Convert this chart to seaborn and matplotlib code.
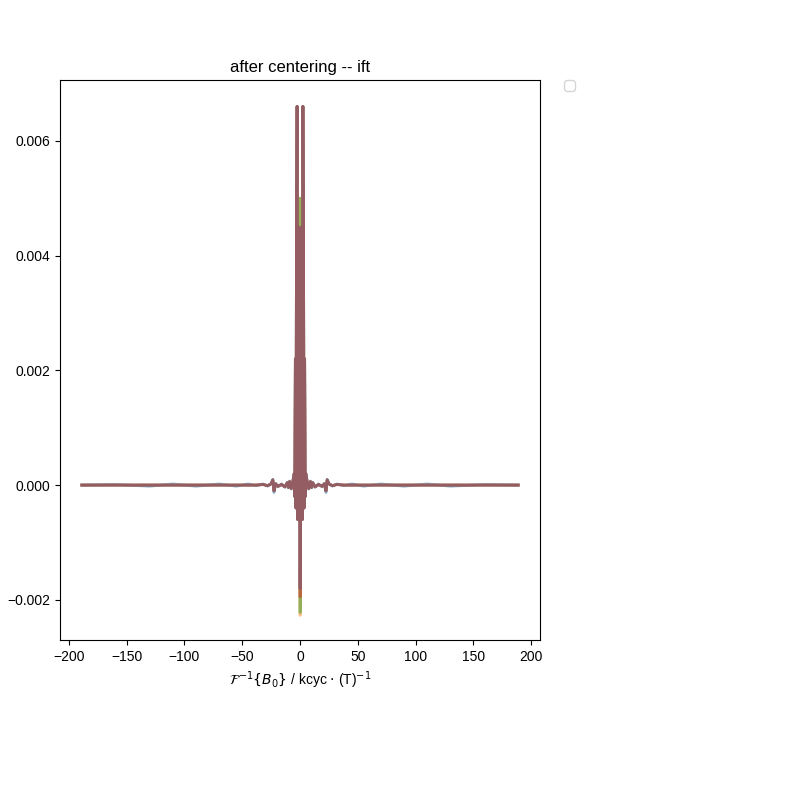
import pandas as pd
import numpy as np
import matplotlib
matplotlib.use("Agg")
import matplotlib.pyplot as plt
import seaborn as sns

plt.rcParams['font.family'] = ['Liberation Sans', 'DejaVu Sans']

# series drawn one over the other (tab10 order)
series = ["s0", "s1", "s2", "s3", "s4", "s5"]
colors = ["#1f77b4", "#ff7f0e", "#2ca02c", "#d62728", "#9467bd", "#8c564b"]

# far field, left side (right side mirrors these positions)
tail_x = [-188.7, -160, -130, -110, -90, -70, -55, -45, -38, -32, -28, -25,
          -23.5, -22.5, -21, -19, -16, -13, -11, -10, -9, -7.5, -6]
tail_y_left = [0, 0, 0, 0, 0, 0, 0, 0, 0, 0.00001, -0.00001, 0.00002,
               0.00009, -0.00010, 0.00002, -0.00002, 0.00001, -0.00003,
               0.00004, -0.00004, 0.00006, -0.00006, 0.00008]
tail_y_right = [0.00008, -0.00006, 0.00006, -0.00004, 0.00004, -0.00003,
                0.00001, -0.00002, 0.00002, -0.00010, 0.00009, 0.00002,
                -0.00001, 0.00001, 0, 0, 0, 0, 0, 0, 0, 0, 0]
# the first trace is noisier in the tails
blue_tail_left = [0, 0.00001, -0.00002, 0.00002, -0.00002, 0.00002, -0.00002,
                  0.00002, -0.00001, 0.00002, -0.00002, 0.00003,
                  0.00010, -0.00013, 0.00003, -0.00003, 0.00002, -0.00004,
                  0.00005, -0.00005, 0.00007, -0.00007, 0.00009]
blue_tail_right = [0.00009, -0.00007, 0.00007, -0.00005, 0.00005, -0.00004,
                   0.00002, -0.00003, 0.00003, -0.00013, 0.00010, 0.00003,
                   -0.00002, 0.00002, -0.00001, 0.00002, -0.00002, 0.00002,
                   -0.00002, 0.00002, -0.00002, 0.00001, 0]

# centre, left half and right half around the main dip
core_x_left = [-5, -4.5, -4, -3.5, -3, -2.5, -2, -1.5, -1, -0.5]
core_y_left = [0.0002, -0.0002, 0.0022, -0.0004, 0.0045, 0.0066, -0.0006,
               0.0045, -0.0005, 0.0044]
core_x_right = [0.5, 1, 1.5, 2, 2.5, 3, 3.5, 4, 4.5, 5]
core_y_right = [0.0044, -0.0005, 0.0045, -0.0006, 0.0066, 0.0045, -0.0004,
                0.0022, -0.0002, 0.0002]

# the central up/down excursion differs per trace
peak_x = [-0.1, 0.1]
peak_hi = [0.0040, 0.0050, 0.0050, 0.00415, 0.0040, 0.0040]
peak_lo = [-0.0018, -0.00227, -0.00222, -0.00195, -0.0018, -0.0018]

rows = []
for i, name in enumerate(series):
    left = blue_tail_left if i == 0 else tail_y_left
    right = blue_tail_right if i == 0 else tail_y_right
    xs = tail_x + core_x_left + peak_x + core_x_right + [-v for v in tail_x[::-1]]
    ys = left + core_y_left + [peak_hi[i], peak_lo[i]] + core_y_right + right
    for x, y in zip(xs, ys):
        rows.append({"series": name, "freq": x, "amp": y})
df = pd.DataFrame(rows)

fig, ax = plt.subplots(figsize=(8, 8), dpi=100)
fig.subplots_adjust(left=0.075, right=0.675, bottom=0.2, top=0.9)

sns.lineplot(data=df, x="freq", y="amp", hue="series", palette=colors,
             estimator=None, sort=False, alpha=0.5, linewidth=2,
             legend=False, ax=ax)

ax.set_xlim(-207.6, 207.6)
ax.set_ylim(-0.0027, 0.00706)
ax.set_title("after centering -- ift")
ax.set_xlabel(r"$\mathcal{F}^{-1}\{B_0\}$ / kcyc $\cdot$ (T)$^{-1}$")
ax.set_ylabel("")
ax.legend(bbox_to_anchor=(1.05, 1), loc="upper left", borderaxespad=0)

plt.savefig("out.png", dpi=100)
